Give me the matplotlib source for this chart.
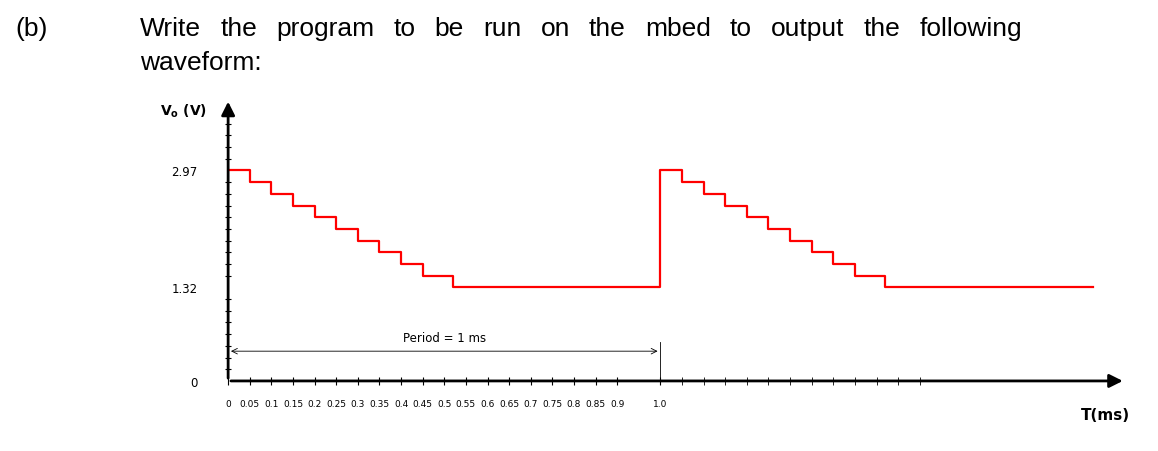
import matplotlib
matplotlib.use("Agg")
import matplotlib.pyplot as plt

# data
step_times = [0.0, 0.05, 0.10, 0.15, 0.20, 0.25, 0.30, 0.35, 0.40, 0.45, 0.52,
              1.0, 1.05, 1.10, 1.15, 1.20, 1.25, 1.30, 1.35, 1.40, 1.45, 1.52, 2.0]
step_volts = [2.97, 2.805, 2.64, 2.475, 2.31, 2.145, 1.98, 1.815, 1.65, 1.485, 1.32,
              2.97, 2.805, 2.64, 2.475, 2.31, 2.145, 1.98, 1.815, 1.65, 1.485, 1.32, 1.32]
ytick_vals = [0, 1.32, 2.97]
ytick_labels = ["0", "1.32", "2.97"]
xtick_vals = [0, 0.05, 0.1, 0.15, 0.2, 0.25, 0.3, 0.35, 0.4, 0.45, 0.5, 0.55, 0.6,
              0.65, 0.7, 0.75, 0.8, 0.85, 0.9, 1.0]
xtick_labels = ["0", "0.05", "0.1", "0.15", "0.2", "0.25", "0.3", "0.35", "0.4", "0.45",
                "0.5", "0.55", "0.6", "0.65", "0.7", "0.75", "0.8", "0.85", "0.9", "1.0"]

fig = plt.figure(figsize=(11.58, 4.52), dpi=100)
fig.text(0.013, 0.92, "(b)", fontsize=19, family="Liberation Sans")
line1 = "Write the program to be run on the mbed to output the following".split()
# justified first line
x0, x1 = 0.121, 0.883
widths = []
r = fig.canvas.get_renderer()
tmp = []
for w in line1:
    t = fig.text(0, 0, w, fontsize=19, family="Liberation Sans")
    tmp.append(t)
    widths.append(t.get_window_extent(r).width / fig.bbox.width)
gap = (x1 - x0 - sum(widths)) / (len(line1) - 1)
x = x0
for t, wd in zip(tmp, widths):
    t.set_position((x, 0.92))
    x += wd + gap
fig.text(0.121, 0.845, "waveform:", fontsize=19, family="Liberation Sans")

ax = fig.add_axes([0.197, 0.155, 0.775, 0.624])
ax.step(step_times, step_volts, where="post", color="red", lw=1.6)
ax.set_xlim(0, 2.076)
ax.set_ylim(0, 3.98)
for s in ax.spines.values():
    s.set_visible(False)
ax.annotate("", xy=(1.0, 0), xytext=(0, 0), xycoords="axes fraction",
            arrowprops=dict(arrowstyle="-|>", color="black", lw=2, mutation_scale=20))
ax.annotate("", xy=(0, 1.0), xytext=(0, 0), xycoords="axes fraction",
            arrowprops=dict(arrowstyle="-|>", color="black", lw=2, mutation_scale=20))
ax.set_yticks(ytick_vals)
ax.set_yticklabels(ytick_labels, fontsize=8.5)
ax.set_yticks([i * 0.165 for i in range(1, 24)], minor=True)
ax.set_xticks(xtick_vals)
ax.set_xticklabels(xtick_labels, fontsize=6.5)
ax.set_xticks([1.05 + 0.05 * i for i in range(12)], minor=True)
ax.tick_params(axis="y", which="major", length=0, pad=22)
ax.tick_params(axis="y", which="minor", length=5, direction="inout", width=0.8)
ax.tick_params(axis="x", which="major", length=6, direction="inout", pad=10)
ax.tick_params(axis="x", which="minor", length=6, direction="inout")
ax.annotate("", xy=(1.0, 0.42), xytext=(0, 0.42),
            arrowprops=dict(arrowstyle="<->", color="black", lw=0.6))
ax.plot([1.0, 1.0], [0, 0.55], color="black", lw=0.6)
ax.text(0.5, 0.62, "Period = 1 ms", ha="center", va="center", fontsize=8.5)
fig.text(0.138, 0.745, "V$_\\mathregular{o}$ (V)", fontsize=10, fontweight="bold")
fig.text(0.976, 0.07, "T(ms)", fontsize=11, fontweight="bold", ha="right")
fig.savefig("out.png", dpi=100)
